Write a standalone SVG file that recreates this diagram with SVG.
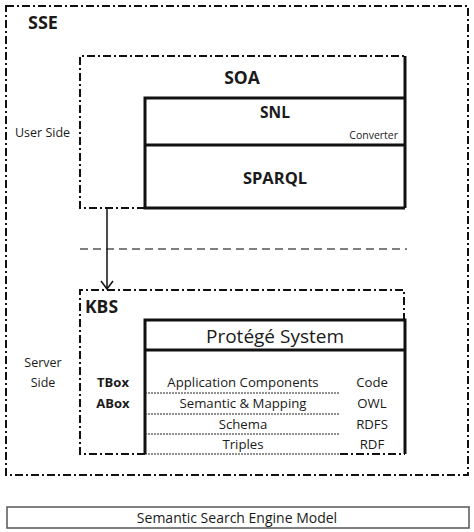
<svg xmlns="http://www.w3.org/2000/svg" width="474" height="532" viewBox="0 0 474 532">
<style>
  text { font-family: "Open Sans", "Liberation Sans", sans-serif; fill: #1a1a1a; }
  .b { font-weight: bold; }
  .dd { fill: none; stroke: #111; stroke-width: 2; stroke-dasharray: 8 3 2 3; }
  .solid { fill: none; stroke: #111; stroke-width: 3; }
  .dot { fill: none; stroke: #222; stroke-width: 1; stroke-dasharray: 2 1; }
  .dash { fill: none; stroke: #555; stroke-width: 1.5; stroke-dasharray: 8 5; }
  .mid { text-anchor: middle; }
</style>
<rect width="474" height="532" fill="#fff"/>
<g id="sse">
  <rect class="dd" x="6" y="6" width="462" height="469"/>
  <text class="b" x="28" y="29" font-size="18">SSE</text>
  <text x="15" y="137" font-size="12.5">User Side</text>
  <text class="mid" x="43" y="367" font-size="12.5">Server</text>
  <text class="mid" x="43" y="387" font-size="12.5">Side</text>
</g>
<g id="soa">
  <path class="dd" d="M145,208 H80 V56 H405"/>
  <line class="solid" x1="405" y1="56" x2="405" y2="208"/>
  <text class="b mid" x="242" y="84" font-size="17.5">SOA</text>
</g>
<g id="snl">
  <path class="solid" d="M405,98 H145 V208 H405 M145,145 H405"/>
  <text class="b mid" x="275" y="118" font-size="15.5">SNL</text>
  <text x="398" y="139" font-size="10.5" text-anchor="end">Converter</text>
</g>
<g id="sparql">
  <text class="b mid" x="275" y="184" font-size="16.5">SPARQL</text>
</g>
<g id="divider">
  <line class="dash" x1="80" y1="249" x2="407" y2="249"/>
</g>
<g id="kbs">
  <path class="dd" d="M145,454 H80 V290 H404 V320"/>
  <line class="dd" x1="340" y1="454" x2="405" y2="454"/>
  <line class="dot" x1="145" y1="454" x2="340" y2="454"/>
  <text class="b" x="85" y="313" font-size="17.5">KBS</text>
  <text class="b mid" x="113" y="387" font-size="13">TBox</text>
  <text class="b mid" x="113" y="408" font-size="13">ABox</text>
</g>
<g id="protege">
  <path class="solid" d="M145,454 V320 H405 V454 M145,350 H405"/>
  <text class="mid" x="275" y="343" font-size="19">Protégé System</text>
  <line class="dot" x1="145" y1="393" x2="340" y2="393"/>
  <line class="dot" x1="145" y1="414" x2="340" y2="414"/>
  <line class="dot" x1="145" y1="434" x2="340" y2="434"/>
  <text class="mid" x="243" y="387" font-size="13.2">Application Components</text>
  <text class="mid" x="243" y="408" font-size="13.2">Semantic &amp; Mapping</text>
  <text class="mid" x="243" y="429" font-size="13.2">Schema</text>
  <text class="mid" x="243" y="449" font-size="13.2">Triples</text>
  <text class="mid" x="372" y="387" font-size="13.2">Code</text>
  <text class="mid" x="372" y="408" font-size="13.2">OWL</text>
  <text class="mid" x="372" y="429" font-size="13.2">RDFS</text>
  <text class="mid" x="372" y="449" font-size="13.2">RDF</text>
</g>
<g id="connectors">
  <line x1="107" y1="208" x2="107" y2="289" stroke="#111" stroke-width="1.5"/>
  <path d="M101,281 L107,289 L113,281" fill="none" stroke="#111" stroke-width="1.5"/>
</g>
<g id="caption">
  <rect x="7" y="507" width="462" height="21" fill="none" stroke="#555" stroke-width="1.5"/>
  <text class="mid" x="237" y="523" font-size="14">Semantic Search Engine Model</text>
</g>
</svg>
